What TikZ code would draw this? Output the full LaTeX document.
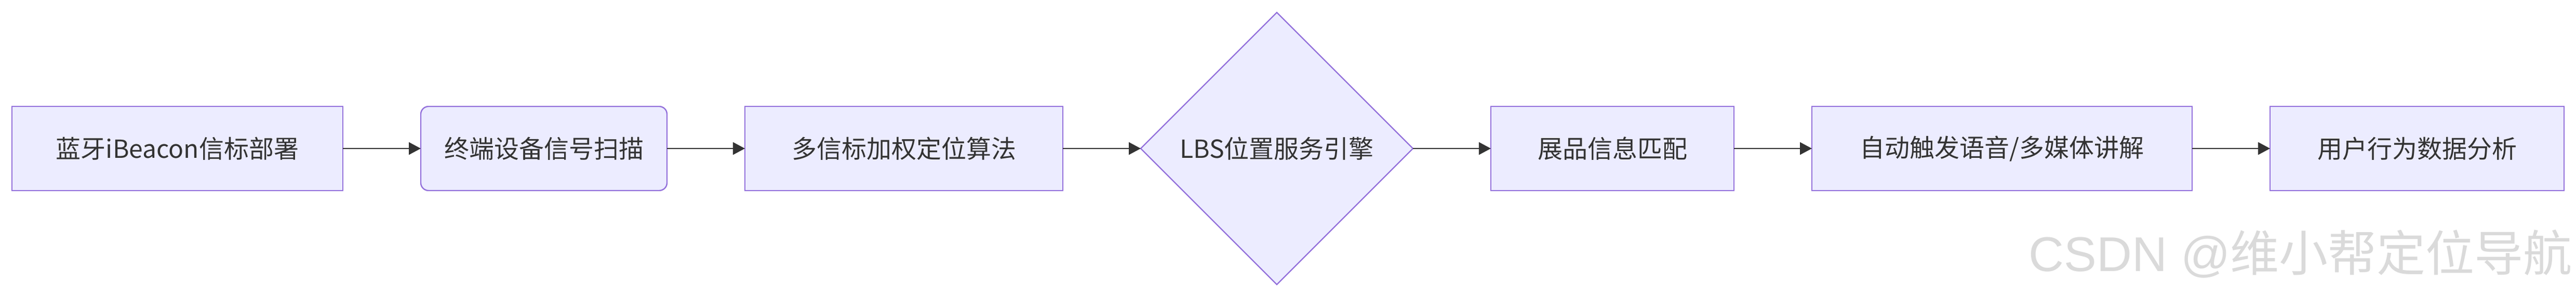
\documentclass[tikz,border=0pt]{standalone}
\usepackage{fontspec}
\setmainfont{Noto Sans CJK SC}
\newfontfamily\markfont{Liberation Sans}
\usetikzlibrary{positioning,shapes.geometric,arrows.meta}
\definecolor{boxfill}{HTML}{ECECFF}
\definecolor{boxline}{HTML}{9370DB}
\definecolor{ink}{HTML}{333333}
\definecolor{markgray}{HTML}{DADADA}
\begin{document}
\begin{tikzpicture}[font=\fontsize{24pt}{28pt}\selectfont, text=ink, node distance=75pt,
        stepbox/.style={draw=boxline, fill=boxfill, line width=1.2pt, outer sep=0pt, minimum height=81pt},
        roundbox/.style={stepbox, rounded corners=7.5pt},
        decide/.style={draw=boxline, fill=boxfill, line width=1.2pt, outer sep=0pt, diamond, minimum width=262pt, minimum height=262pt, inner sep=0pt},
        flow/.style={draw=ink, line width=1.2pt, -{Triangle[length=11.5pt, width=12pt]}}]
    \useasboundingbox (0,0) rectangle (2479.5pt,286pt);
    \node[stepbox, minimum width=318.5pt, anchor=west] (beacon) at (11.5pt,143pt) {蓝牙iBeacon信标部署};
    \node[roundbox, minimum width=237pt, right=of beacon] (scan) {终端设备信号扫描};
    \node[stepbox, minimum width=306pt, right=of scan] (weight) {多信标加权定位算法};
    \node[decide, right=of weight] (lbs) {LBS位置服务引擎};
    \node[stepbox, minimum width=234pt, right=of lbs] (exhibit) {展品信息匹配};
    \node[stepbox, minimum width=366pt, right=of exhibit] (guide) {自动触发语音/多媒体讲解};
    \node[stepbox, minimum width=283pt, right=of guide] (behave) {用户行为数据分析};
    \foreach \from/\to in {beacon/scan, scan/weight, weight/lbs, lbs/exhibit, exhibit/guide, guide/behave}
        \draw[flow] (\from) -- (\to);
    \node[anchor=base east, inner sep=0pt, text=markgray, font=\fontsize{47pt}{50pt}\selectfont] (mark) at (2476pt,24.5pt) {{\markfont CSDN @}维小帮定位导航};
\end{tikzpicture}
\end{document}
